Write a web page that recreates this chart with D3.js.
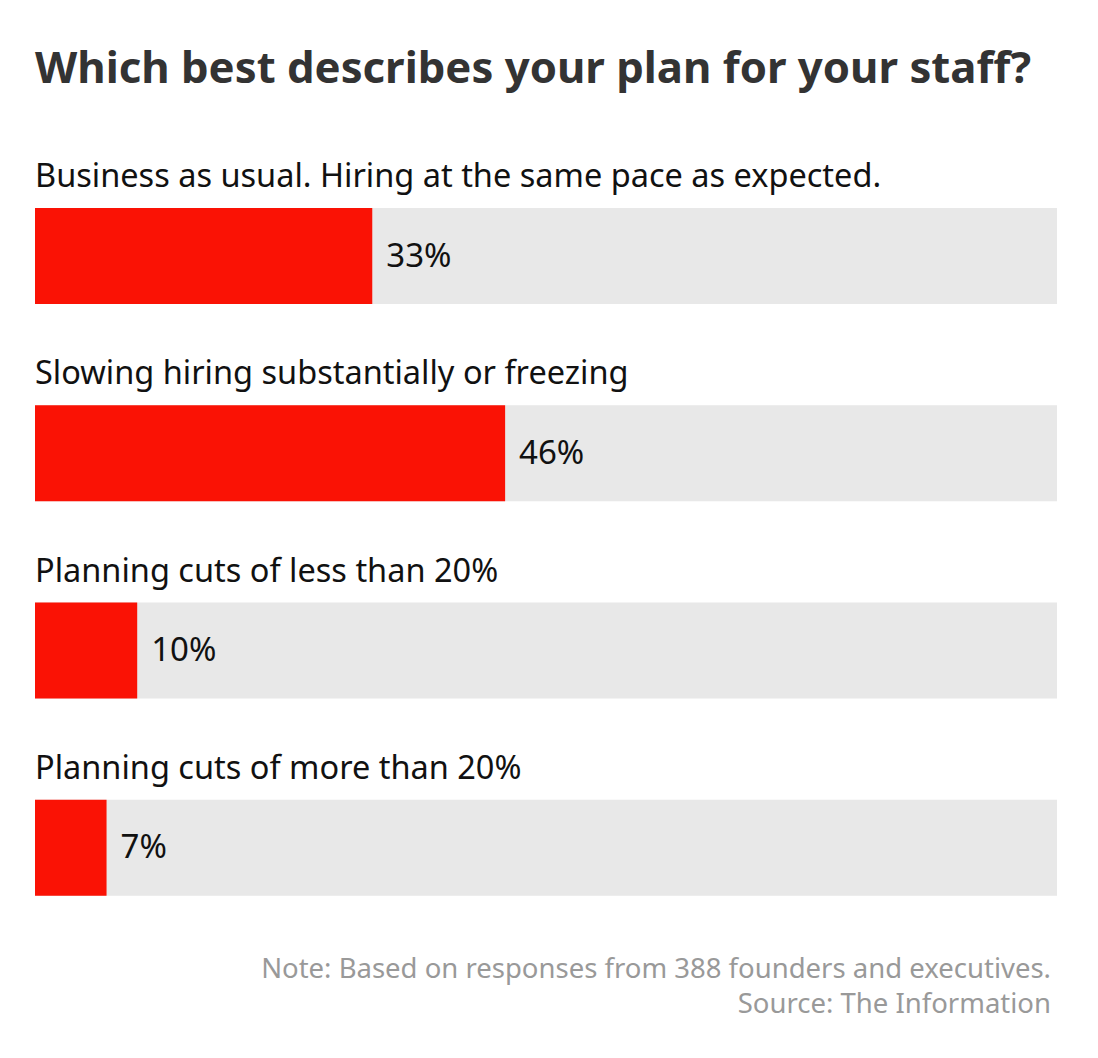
<!DOCTYPE html>
<html>
<head>
<meta charset="utf-8">
<script src="https://cdn.jsdelivr.net/npm/d3@7"></script>
<style>
  body { margin: 0; background: #fff; }
  svg text { font-family: "Noto Sans", "Open Sans", sans-serif; }
</style>
</head>
<body>
<svg id="chart" width="1098" height="1058"></svg>
<script>
const categories = [
    'Business as usual. Hiring at the same pace as expected.',
    'Slowing hiring substantially or freezing',
    'Planning cuts of less than 20%',
    'Planning cuts of more than 20%'
];
const values = [33, 46, 10, 7];
const title = 'Which best describes your plan for your staff?';
const notes = ['Note: Based on responses from 388 founders and executives.', 'Source: The Information'];

const svg = d3.select('#chart');
const left = 35, right = 1057;

const x = d3.scaleLinear().domain([0, 100]).range([left, right]);
const y = d3.scaleBand().domain(categories).range([160, 949]).paddingInner(0).paddingOuter(0);
const barH = 96;

svg.append('text').attr('x', left).attr('y', 83)
    .attr('font-size', 43.7).attr('font-weight', 700).attr('fill', '#333')
    .text(title);

const rows = svg.selectAll('g.row').data(categories).join('g')
    .attr('class', 'row')
    .attr('transform', d => `translate(0,${y(d)})`);

rows.append('text').attr('x', left).attr('y', 27)
    .attr('font-size', 32.5).attr('fill', '#111')
    .text(d => d);

rows.append('rect').attr('x', x(0)).attr('y', 48)
    .attr('width', x(100) - x(0)).attr('height', barH)
    .attr('fill', '#e8e8e8');

rows.append('rect').attr('x', x(0)).attr('y', 48)
    .attr('width', (d, i) => x(values[i]) - x(0)).attr('height', barH)
    .attr('fill', '#fa1205');

rows.append('text').attr('x', (d, i) => x(values[i]) + 14).attr('y', 48 + barH / 2)
    .attr('dy', '0.32em')
    .attr('font-size', 33).attr('fill', '#111')
    .text((d, i) => values[i] + '%');

svg.selectAll('text.note').data(notes).join('text')
    .attr('class', 'note')
    .attr('x', 1051).attr('y', (d, i) => 978 + i * 35)
    .attr('text-anchor', 'end')
    .attr('font-size', 27.5).attr('fill', '#999')
    .text(d => d);
</script>
</body>
</html>
